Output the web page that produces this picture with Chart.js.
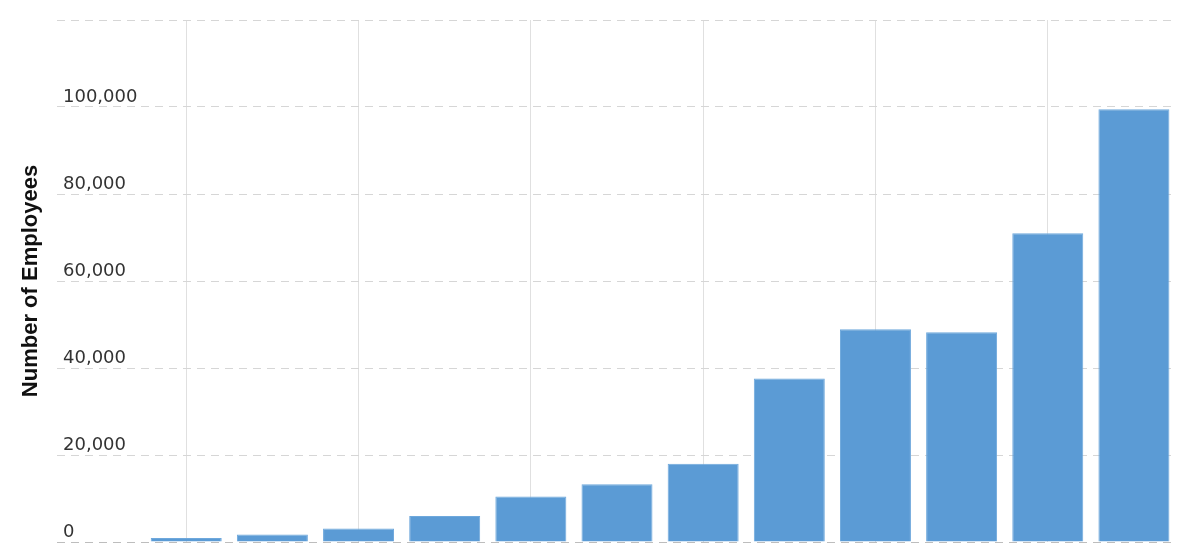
<!DOCTYPE html>
<html>
<head>
<meta charset="utf-8">
<script src="https://cdn.jsdelivr.net/npm/chart.js@4.4.1/dist/chart.umd.min.js"></script>
<style>
    html, body { margin: 0; padding: 0; background: #fff; }
    #wrap { width: 1200px; height: 551px; }
</style>
</head>
<body>
<div id="wrap"><canvas id="grafico"></canvas></div>
<script>
// leading empty slot keeps the room on the left where the y labels sit
const anios = ['', '2010', '2011', '2012', '2013', '2014', '2015', '2016', '2017', '2018', '2019', '2020', '2021'];
const empleados = [null, 900, 1700, 3100, 6000, 10450, 13250, 18000, 37600, 48900, 48200, 71000, 99500];
const ticksY = [0, 20000, 40000, 60000, 80000, 100000, 120000];

const ctx = document.getElementById('grafico').getContext('2d');
const miGrafico = new Chart(ctx, {
    type: 'bar',
    data: {
        labels: anios,
        datasets: [{
            label: 'Number of Employees',
            data: empleados,
            backgroundColor: '#5b9bd5',
            borderColor: '#6ea8dc',
            borderWidth: 1,
            categoryPercentage: 1,
            barPercentage: 0.824
        }]
    },
    options: {
        responsive: true,
        maintainAspectRatio: false,
        animation: false,
        layout: {
            padding: { top: 20, right: 23, bottom: 9, left: 0 }
        },
        plugins: {
            legend: { display: false },
            tooltip: { enabled: false }
        },
        scales: {
            x: {
                offset: true,
                border: { display: false },
                afterFit: function(scale) { scale.height = 0; },
                grid: {
                    offset: false,
                    drawTicks: false,
                    color: (c) => (c.index % 2 === 1 ? '#e0e0e0' : 'rgba(0,0,0,0)'),
                    lineWidth: 1
                },
                ticks: { display: false }
            },
            y: {
                min: 0,
                max: 120000,
                afterFit: function(scale) {
                    scale.width = 57;
                    scale.paddingTop = 0;
                    scale.paddingBottom = 0;
                },
                afterBuildTicks: function(scale) {
                    scale.ticks = ticksY.map(v => ({ value: v }));
                },
                border: { display: false, dash: [8, 6] },
                grid: {
                    drawTicks: false,
                    color: (c) => (c.tick && c.tick.value === 0 ? '#bdbdbd' : '#d6d6d6'),
                    lineWidth: 1
                },
                ticks: {
                    mirror: true,
                    padding: 6,
                    labelOffset: -10,
                    color: '#333',
                    font: { family: 'DejaVu Sans', size: 18 },
                    callback: (v) => (v >= 120000 ? '' : v.toLocaleString('en-US'))
                },
                title: {
                    display: true,
                    text: 'Number of Employees',
                    color: '#111',
                    font: { family: 'Liberation Sans', size: 22, weight: 'bold' },
                    padding: { top: 18, bottom: 0 }
                }
            }
        }
    }
});
</script>
</body>
</html>
